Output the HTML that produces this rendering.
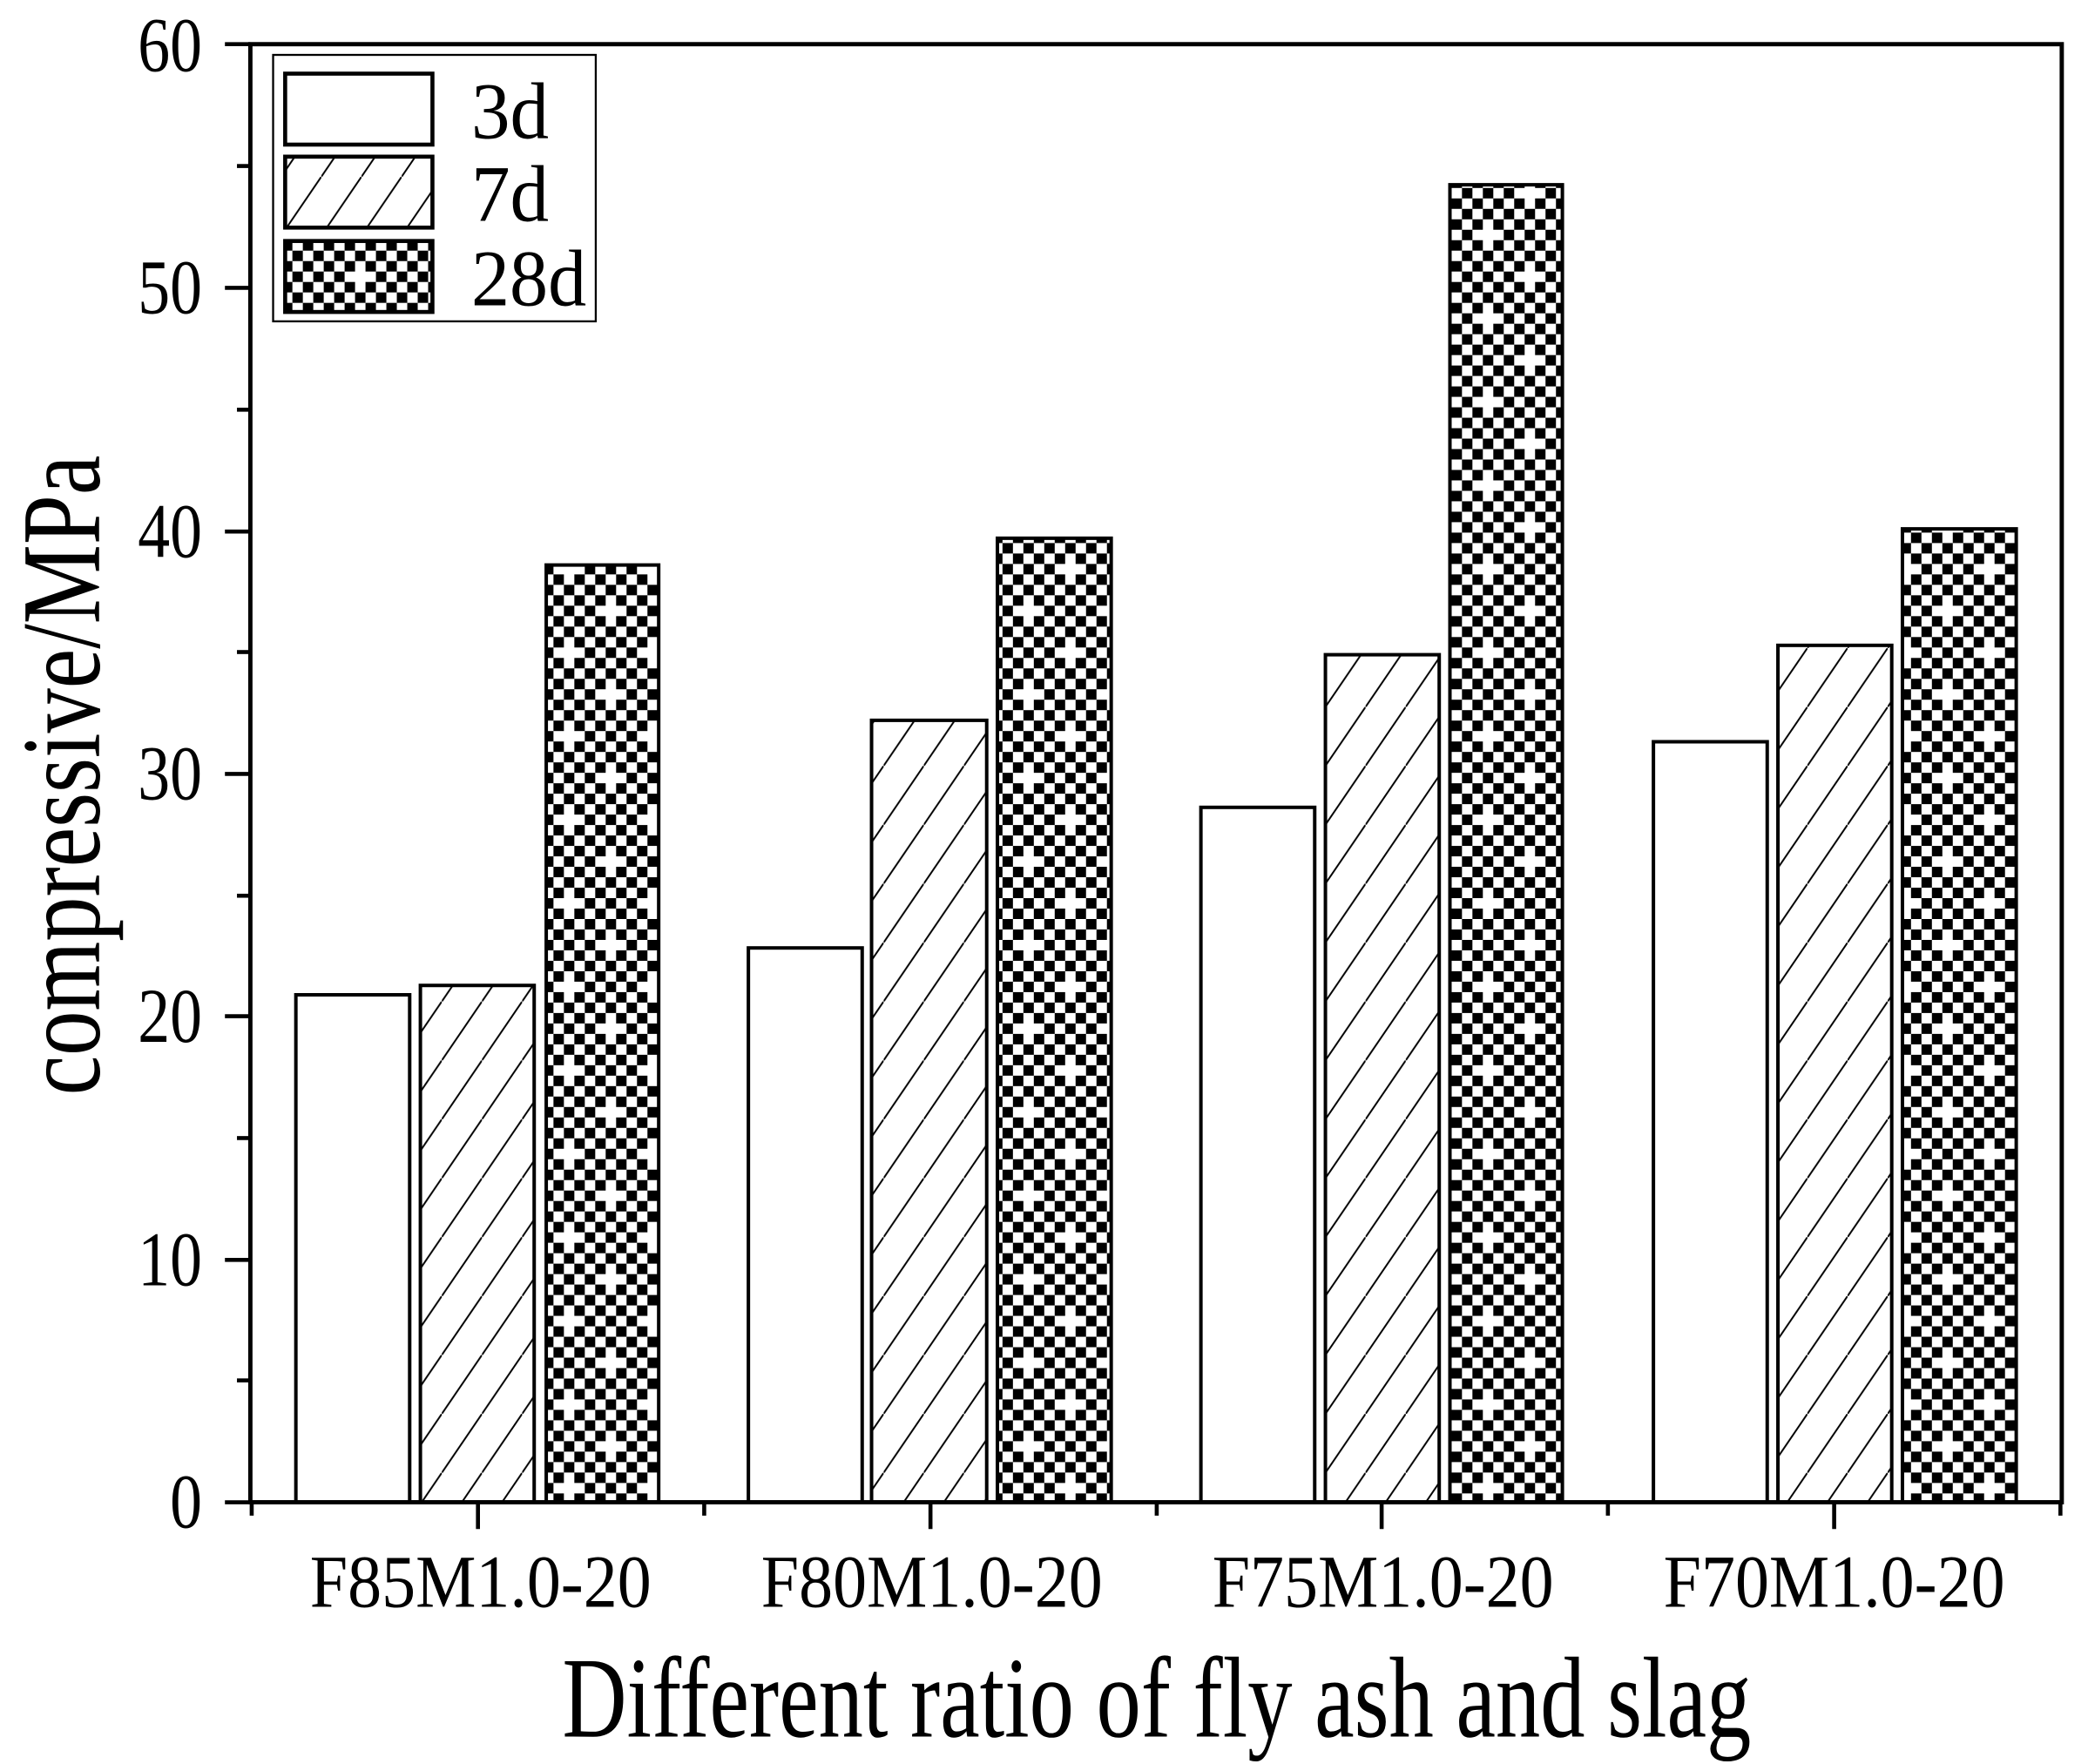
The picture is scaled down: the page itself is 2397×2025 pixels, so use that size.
<!DOCTYPE html>
<html><head><meta charset="utf-8"><style>
html,body{margin:0;padding:0;background:#fff;}
svg{display:block;}
text{font-family:"Liberation Serif",serif;fill:#000;}
</style></head><body>
<svg width="2397" height="2025" viewBox="0 0 1559.6 1317.5" preserveAspectRatio="none" xmlns="http://www.w3.org/2000/svg">
<defs>
<pattern id="hatch" patternUnits="userSpaceOnUse" width="30" height="44">
<line x1="-3" y1="48.4" x2="33" y2="-4.4" stroke="#000" stroke-width="1.3"/>
</pattern>
<pattern id="check" patternUnits="userSpaceOnUse" width="62.4" height="62.4" x="0" y="0">
<rect width="62.4" height="62.4" fill="#fff"/>
<g fill="#000">
<rect x="0" y="0" width="7.8" height="7.8"/><rect x="15.6" y="0" width="7.8" height="7.8"/><rect x="31.2" y="0" width="7.8" height="7.8"/><rect x="46.8" y="0" width="7.8" height="7.8"/>
<rect x="7.8" y="7.8" width="7.8" height="7.8"/><rect x="23.4" y="7.8" width="7.8" height="7.8"/><rect x="39" y="7.8" width="7.8" height="7.8"/><rect x="54.6" y="7.8" width="7.8" height="7.8"/>
<rect x="0" y="15.6" width="7.8" height="7.8"/><rect x="15.6" y="15.6" width="7.8" height="7.8"/><rect x="31.2" y="15.6" width="7.8" height="7.8"/><rect x="46.8" y="15.6" width="7.8" height="7.8"/>
<rect x="7.8" y="23.4" width="7.8" height="7.8"/><rect x="23.4" y="23.4" width="7.8" height="7.8"/><rect x="39" y="23.4" width="7.8" height="7.8"/><rect x="54.6" y="23.4" width="7.8" height="7.8"/>
<rect x="0" y="31.2" width="7.8" height="7.8"/><rect x="15.6" y="31.2" width="7.8" height="7.8"/><rect x="31.2" y="31.2" width="7.8" height="7.8"/><rect x="46.8" y="31.2" width="7.8" height="7.8"/>
<rect x="7.8" y="39" width="7.8" height="7.8"/><rect x="23.4" y="39" width="7.8" height="7.8"/><rect x="39" y="39" width="7.8" height="7.8"/><rect x="54.6" y="39" width="7.8" height="7.8"/>
<rect x="0" y="46.8" width="7.8" height="7.8"/><rect x="15.6" y="46.8" width="7.8" height="7.8"/><rect x="31.2" y="46.8" width="7.8" height="7.8"/><rect x="46.8" y="46.8" width="7.8" height="7.8"/>
<rect x="7.8" y="54.6" width="7.8" height="7.8"/><rect x="23.4" y="54.6" width="7.8" height="7.8"/><rect x="39" y="54.6" width="7.8" height="7.8"/><rect x="54.6" y="54.6" width="7.8" height="7.8"/>
</g>
<g fill="#fff">
<rect x="15.6" y="7.8" width="7.8" height="23.4"/><rect x="7.8" y="15.6" width="23.4" height="7.8"/>
<rect x="46.8" y="39" width="7.8" height="23.4"/><rect x="39" y="46.8" width="23.4" height="7.8"/>
</g>
</pattern>
</defs>

<g stroke="#000" stroke-width="2.6">
<rect x="221" y="743" width="85" height="379" fill="#fff"/>
<rect x="314" y="736" width="85" height="386" fill="url(#hatch)"/>
<rect x="408" y="422" width="84" height="700" fill="url(#check)"/>
<rect x="559" y="708" width="85" height="414" fill="#fff"/>
<rect x="651" y="538" width="86" height="584" fill="url(#hatch)"/>
<rect x="745" y="402" width="85" height="720" fill="url(#check)"/>
<rect x="897" y="603" width="85" height="519" fill="#fff"/>
<rect x="990" y="489" width="85" height="633" fill="url(#hatch)"/>
<rect x="1083" y="138" width="84" height="984" fill="url(#check)"/>
<rect x="1235" y="554" width="85" height="568" fill="#fff"/>
<rect x="1328" y="482" width="85" height="640" fill="url(#hatch)"/>
<rect x="1421" y="395" width="85" height="727" fill="url(#check)"/>
</g>

<rect x="187" y="33" width="1353" height="1089" fill="none" stroke="#000" stroke-width="3.2"/>
<g stroke="#000" stroke-width="3">
<line x1="168" y1="1122" x2="187" y2="1122"/><line x1="168" y1="941" x2="187" y2="941"/>
<line x1="168" y1="759" x2="187" y2="759"/><line x1="168" y1="578" x2="187" y2="578"/>
<line x1="168" y1="397" x2="187" y2="397"/><line x1="168" y1="215" x2="187" y2="215"/>
<line x1="168" y1="33" x2="187" y2="33"/>
<line x1="177" y1="1031" x2="187" y2="1031"/><line x1="177" y1="850" x2="187" y2="850"/>
<line x1="177" y1="669" x2="187" y2="669"/><line x1="177" y1="487" x2="187" y2="487"/>
<line x1="177" y1="306" x2="187" y2="306"/><line x1="177" y1="124" x2="187" y2="124"/>
<line x1="357" y1="1122" x2="357" y2="1142"/><line x1="695" y1="1122" x2="695" y2="1142"/>
<line x1="1032" y1="1122" x2="1032" y2="1142"/><line x1="1370" y1="1122" x2="1370" y2="1142"/>
<line x1="188" y1="1122" x2="188" y2="1132"/><line x1="526" y1="1122" x2="526" y2="1132"/>
<line x1="864" y1="1122" x2="864" y2="1132"/><line x1="1201" y1="1122" x2="1201" y2="1132"/>
<line x1="1539" y1="1122" x2="1539" y2="1132"/>
</g>

<g font-size="58" text-anchor="end">
<text x="151" y="1141" textLength="24" lengthAdjust="spacingAndGlyphs">0</text>
<text x="151" y="960" textLength="48" lengthAdjust="spacingAndGlyphs">10</text>
<text x="151" y="778" textLength="48" lengthAdjust="spacingAndGlyphs">20</text>
<text x="151" y="597" textLength="48" lengthAdjust="spacingAndGlyphs">30</text>
<text x="151" y="416" textLength="48" lengthAdjust="spacingAndGlyphs">40</text>
<text x="151" y="234" textLength="48" lengthAdjust="spacingAndGlyphs">50</text>
<text x="151" y="53" textLength="48" lengthAdjust="spacingAndGlyphs">60</text>
</g>

<g font-size="56" text-anchor="middle">
<text x="359" y="1200" textLength="255" lengthAdjust="spacingAndGlyphs">F85M1.0-20</text>
<text x="696" y="1200" textLength="255" lengthAdjust="spacingAndGlyphs">F80M1.0-20</text>
<text x="1033" y="1200" textLength="255" lengthAdjust="spacingAndGlyphs">F75M1.0-20</text>
<text x="1370" y="1200" textLength="255" lengthAdjust="spacingAndGlyphs">F70M1.0-20</text>
</g>

<text x="864" y="1297" font-size="86" text-anchor="middle" textLength="888" lengthAdjust="spacingAndGlyphs">Different ratio of fly ash and slag</text>
<text transform="translate(74,579) rotate(-90)" font-size="84" text-anchor="middle" textLength="478" lengthAdjust="spacingAndGlyphs">compressive/MPa</text>

<rect x="204" y="41" width="241" height="199" fill="#fff" stroke="#000" stroke-width="1.5"/>
<g stroke="#000" stroke-width="3">
<rect x="213" y="55" width="110" height="53" fill="#fff"/>
<rect x="213" y="117" width="110" height="53" fill="url(#hatch)"/>
<rect x="213" y="180" width="110" height="53" fill="url(#check)"/>
</g>
<g font-size="60">
<text x="352" y="103" textLength="58" lengthAdjust="spacingAndGlyphs">3d</text>
<text x="352" y="165" textLength="58" lengthAdjust="spacingAndGlyphs">7d</text>
<text x="352" y="228" textLength="86" lengthAdjust="spacingAndGlyphs">28d</text>
</g>
</svg>
</body></html>
